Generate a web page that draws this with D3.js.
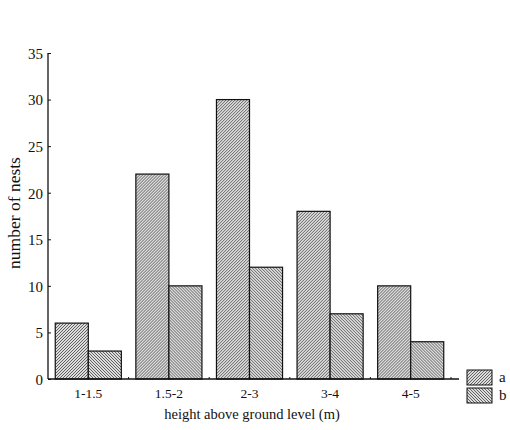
<!DOCTYPE html>
<html>
<head>
<meta charset="utf-8">
<script src="https://cdn.jsdelivr.net/npm/d3@7"></script>
<style>
  body { margin: 0; background: #fff; }
  text { font-family: "Liberation Serif", "DejaVu Serif", serif; fill: #111; }
</style>
</head>
<body>
<svg id="chart" width="510" height="430"></svg>
<script>
// data
var categories = ["1-1.5", "1.5-2", "2-3", "3-4", "4-5"];
var seriesNames = ["a", "b"];
var seriesA = [6, 22, 30, 18, 10];
var seriesB = [3, 10, 12, 7, 4];
var yTicks = [0, 5, 10, 15, 20, 25, 30, 35];

var svg = d3.select("#chart");

// hatch patterns: a = "/" lines, b = "\" lines
var defs = svg.append("defs");
function makeHatch(id, dir) {
    var p = defs.append("pattern")
        .attr("id", id)
        .attr("patternUnits", "userSpaceOnUse")
        .attr("width", 3)
        .attr("height", 3);
    p.append("rect").attr("width", 3).attr("height", 3).attr("fill", "#dcdcdc");
    var d = dir > 0 ? "M-1,1 l2,-2 M0,3 l3,-3 M2,4 l2,-2" : "M-1,2 l2,2 M0,0 l3,3 M2,-1 l2,2";
    p.append("path").attr("d", d).attr("stroke", "#555").attr("stroke-width", 0.9);
}
makeHatch("hatchA", 1);
makeHatch("hatchB", -1);
var fills = ["url(#hatchA)", "url(#hatchB)"];

var x0 = d3.scaleBand().domain(categories).range([48, 451]);
var x1 = d3.scaleBand().domain(seriesNames)
    .range([x0.bandwidth() * 0.09, x0.bandwidth() * 0.91]);
var y = d3.scaleLinear().domain([0, 35]).range([379, 53]);

// y axis
var yAxis = svg.append("g")
    .attr("transform", "translate(48,0)")
    .call(d3.axisLeft(y).tickValues(yTicks).tickSize(3).tickSizeOuter(0));
yAxis.select(".domain").attr("stroke", "#111").attr("stroke-width", 1.3)
    .attr("d", "M0," + y(35) + "V" + y(0));
yAxis.selectAll(".tick line").attr("stroke", "#111").attr("x2", 3).attr("x1", 0);
yAxis.selectAll(".tick text")
    .attr("x", -5)
    .attr("dy", "0.36em")
    .style("font-size", "15px")
    .style("font-family", "Liberation Serif");

// bars
var groups = svg.append("g").selectAll("g")
    .data(categories)
    .enter().append("g")
    .attr("transform", function (d) { return "translate(" + x0(d) + ",0)"; });

groups.selectAll("rect")
    .data(function (d, i) {
        return [
            { key: "a", value: seriesA[i], s: 0 },
            { key: "b", value: seriesB[i], s: 1 }
        ];
    })
    .enter().append("rect")
    .attr("x", function (d) { return x1(d.key); })
    .attr("y", function (d) { return y(d.value); })
    .attr("width", x1.bandwidth())
    .attr("height", function (d) { return y(0) - y(d.value); })
    .attr("fill", function (d) { return fills[d.s]; })
    .attr("stroke", "#111")
    .attr("stroke-width", 1.2);

// x axis
var xAxis = svg.append("g")
    .attr("transform", "translate(0," + y(0) + ")");
xAxis.append("path")
    .attr("d", "M48,0H459")
    .attr("stroke", "#111")
    .attr("stroke-width", 1.3);
// small boundary ticks between groups
xAxis.selectAll(".btick")
    .data(categories)
    .enter().append("line")
    .attr("x1", function (d) { return x0(d) + x0.bandwidth(); })
    .attr("x2", function (d) { return x0(d) + x0.bandwidth(); })
    .attr("y1", 0).attr("y2", -2)
    .attr("stroke", "#111");
xAxis.selectAll(".clabel")
    .data(categories)
    .enter().append("text")
    .attr("x", function (d) { return x0(d) + x0.bandwidth() / 2; })
    .attr("y", 19)
    .attr("text-anchor", "middle")
    .style("font-size", "13.5px")
    .text(function (d) { return d; });

// axis titles
svg.append("text")
    .attr("x", 252)
    .attr("y", 419)
    .attr("text-anchor", "middle")
    .style("font-size", "14.5px")
    .text("height above ground level (m)");

svg.append("text")
    .attr("transform", "translate(20,213) rotate(-90)")
    .attr("text-anchor", "middle")
    .style("font-size", "17.5px")
    .text("number of nests");

// legend
var legend = svg.append("g");
legend.selectAll("rect")
    .data(seriesNames)
    .enter().append("rect")
    .attr("x", 467)
    .attr("y", function (d, i) { return 370 + i * 18; })
    .attr("width", 25)
    .attr("height", 15)
    .attr("fill", function (d, i) { return fills[i]; })
    .attr("stroke", "#111")
    .attr("stroke-width", 1);
legend.selectAll("text")
    .data(seriesNames)
    .enter().append("text")
    .attr("x", 499)
    .attr("y", function (d, i) { return 382 + i * 18; })
    .style("font-size", "15px")
    .text(function (d) { return d; });
</script>
</body>
</html>
